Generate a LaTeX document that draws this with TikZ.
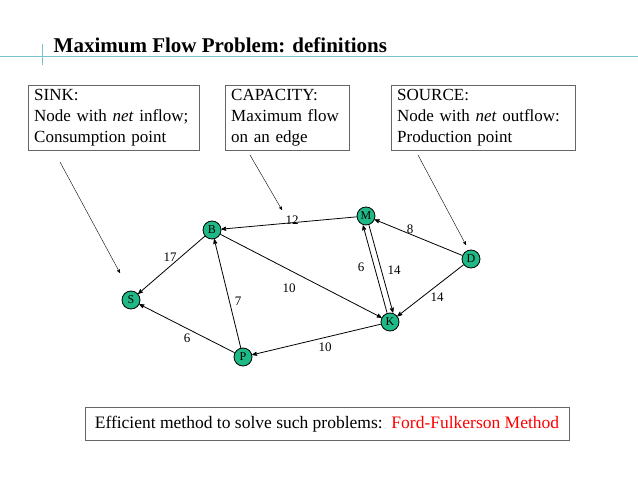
\documentclass[tikz,border=0pt]{standalone}
\usepackage{fontspec}
\setmainfont{Liberation Serif}
\usetikzlibrary{arrows}
\definecolor{nodegreen}{RGB}{30,185,135}
\definecolor{rulecol}{RGB}{120,195,205}
\begin{document}
\begin{tikzpicture}[x=1pt, y=-1pt, ->, >=stealth', thick,
roundnode/.style={circle, draw=black, fill=nodegreen, inner sep=0pt, minimum size=18pt, font=\fontsize{12}{13}\selectfont},
wlabel/.style={font=\fontsize{13}{14}\selectfont},
defbox/.style={draw=black!60, thin, align=left, anchor=north west, inner xsep=6pt, inner ysep=4pt, font=\fontsize{17}{21}\selectfont}]
    \useasboundingbox (0,0) rectangle (638,478);
    % title and rule
    \node[anchor=west, font=\bfseries\fontsize{21}{24}\selectfont] (title) at (50,45) {Maximum Flow Problem: definitions};
    \draw[-, rulecol, thick] (0,56) -- (638,56);
    \draw[-, rulecol, thick] (42,44) -- (42,65);

    % definition boxes
    \node[defbox, text width=159pt] (sink) at (28,85) {SINK:\\Node with \textit{net} inflow;\\Consumption point};
    \node[defbox, text width=112pt] (cap) at (225,85) {CAPACITY:\\Maximum flow\\on an edge};
    \node[defbox, text width=172pt] (source) at (391,85) {SOURCE:\\Node with \textit{net} outflow:\\Production point};

    % graph
    \node[roundnode] (B) at (212,230) {B};
    \node[roundnode] (M) at (366,216) {M};
    \node[roundnode] (D) at (471,259) {D};
    \node[roundnode] (S) at (131,300) {S};
    \node[roundnode] (K) at (390,322) {K};
    \node[roundnode] (P) at (243,357) {P};

    \coordinate (sinkEnd) at (120,273);
    \coordinate (capEnd) at (282,210);
    \coordinate (sourceEnd) at (466,245);
    \draw[thin] (60,162) -- (sinkEnd);
    \draw[thin] (250,155) -- (capEnd);
    \draw[thin] (418,155) -- (sourceEnd);

    \path
      (M) edge (B)
      (D) edge (M)
      ([xshift=3pt]M.south) edge ([xshift=3pt]K.north)
      ([xshift=-3pt]K.north) edge ([xshift=-3pt]M.south)
      (D) edge (K)
      (B) edge (K)
      (B) edge (S)
      (P) edge (B)
      (P) edge (S)
      (K) edge (P);

    \node[wlabel] (w12) at (292,220) {12};
    \node[wlabel] (w8) at (410,229) {8};
    \node[wlabel] (w6a) at (361,267) {6};
    \node[wlabel] (w14a) at (394,270) {14};
    \node[wlabel] (w10a) at (289,288) {10};
    \node[wlabel] (w14b) at (437,297) {14};
    \node[wlabel] (w17) at (170,257) {17};
    \node[wlabel] (w7) at (238,301) {7};
    \node[wlabel] (w6b) at (187,338) {6};
    \node[wlabel] (w10b) at (325,347) {10};

    % bottom note
    \node[draw=black!60, thin, minimum width=484pt, minimum height=33pt, font=\fontsize{17.5}{20}\selectfont] (note) at (327,424)
      {Efficient method to solve such problems:\ \ \textcolor{red}{Ford-Fulkerson Method}};
\end{tikzpicture}
\end{document}
